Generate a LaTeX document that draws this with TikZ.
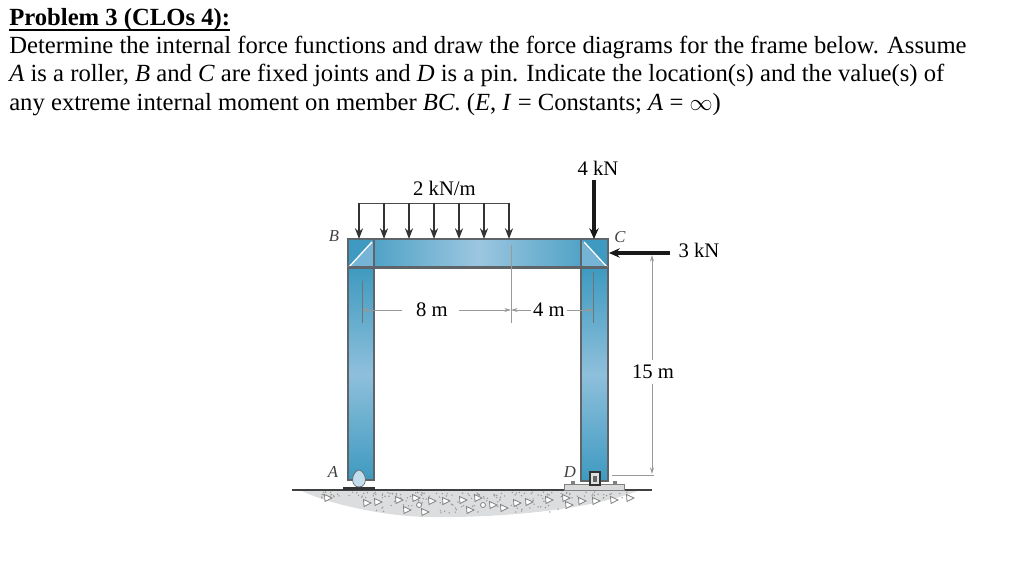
\documentclass[tikz,border=0pt]{standalone}
\usepackage{fontspec}
\setmainfont{Liberation Serif}
\usetikzlibrary{positioning,arrows.meta}
\definecolor{edgegray}{HTML}{5F6468}
\definecolor{steeldark}{HTML}{3E9AC0}
\definecolor{steellight}{HTML}{9CC6E0}
\definecolor{steelmid}{HTML}{76B4D6}
\definecolor{groundgray}{HTML}{DCDDDE}
\definecolor{dimgray}{HTML}{999999}
\tikzset{
  textline/.style={anchor=base west, inner sep=0pt, font=\fontsize{18.5}{22}\selectfont},
  dimlabel/.style={inner sep=0pt, font=\fontsize{15.5}{18}\selectfont},
  pointlabel/.style={inner sep=0pt, font=\fontsize{12.5}{15}\selectfont\itshape, text=black!75},
  member/.style={draw=edgegray, line width=1pt},
  column/.style={member, top color=steeldark, bottom color=steeldark, middle color=steellight!85!steeldark},
  loadarrow/.style={draw=black!80, line width=1.4pt, -{Stealth[length=8pt,width=6pt]}},
  bigarrow/.style={draw=black!90, line width=2.4pt, -{Stealth[length=8pt,width=7pt]}},
  dimline/.style={draw=dimgray, line width=0.6pt},
  dimarrow/.style={dimline, -{Stealth[length=5pt,width=3pt]}},
  rock/.style={draw=black!50, line width=0.6pt, fill=white}
}
\begin{document}
\begin{tikzpicture}[x=0.75pt,y=-0.75pt]
  \useasboundingbox (0,0) rectangle (1024,577);

  % problem text
  \node[textline] (title) at (9,26) {\textbf{Problem 3 (CLOs 4):}};
  \draw[black, line width=0.8pt] ([yshift=-3pt]title.base west) -- ([yshift=-3pt]title.base east);
  \node[textline] (lineone) at (9,54) {Determine the internal force functions and draw the force diagrams for the frame below. Assume};
  \node[textline] (linetwo) at (9,82) {\textit{A} is a roller, \textit{B} and \textit{C} are fixed joints and \textit{D} is a pin. Indicate the location(s) and the value(s) of};
  \node[textline] (linethree) at (9,110.5) {any extreme internal moment on member \textit{BC}. (\textit{E}, \textit{I} = Constants; \textit{A} = $\infty$)};

  % ground
  \fill[groundgray] (300,490) .. controls (325,503) and (385,517) .. (430,517)
    .. controls (500,518) and (590,510) .. (640,490) -- cycle;
  \pgfmathsetseed{11}
  \foreach \i in {1,...,120}
    \fill[black!40] ({320+rnd*310},{492+rnd*(6)}) circle (0.8);
  \foreach \i in {1,...,70}
    \fill[black!40] ({370+rnd*190},{498+rnd*(15)}) circle (0.8);
  \foreach \rx/\ry in {328/498,367/503,378/502,399/500,416/498,432/501,446/501,463/500,407/510,425/512,470/510,478/498,493/505,504/508,517/503,529/502,549/500,566/498,569/505,582/501,596/501,614/500,630/498}
    \draw[rock] (\rx-3.5,\ry-3.5) -- (\rx+4,\ry) -- (\rx-3,\ry+3.5) -- cycle;
  \foreach \rx/\ry in {419/505,483/505}
    \draw[rock] (\rx,\ry) circle (2.5);
  \draw[black!75, line width=1pt] (292,490) -- (652,490);

  % frame
  \draw[column] (348,268) rectangle (374,480);
  \draw[column] (581,268) rectangle (608,481);
  \draw[member, left color=steeldark, right color=steeldark, middle color=steellight] (348,239) rectangle (608,268);
  \fill[steeldark] (349,240) -- (372,240) -- (349,266) -- cycle;
  \fill[steelmid] (373,242) -- (373,267) -- (350,267) -- cycle;
  \fill[steeldark] (607,240) -- (584,240) -- (607,266) -- cycle;
  \fill[steelmid] (582,242) -- (582,267) -- (606,267) -- cycle;
  \draw[white, line width=1pt] (349,267) -- (372,242);
  \draw[white, line width=1pt] (607,267) -- (584,242);
  \draw[edgegray, line width=1.2pt] (349,267) -- (607,267);
  \draw[edgegray, line width=1pt] (374,240) -- (374,267);
  \draw[edgegray, line width=1pt] (581,240) -- (581,267);

  % supports
  \fill[black!80] (343,487) rectangle (375,490);
  \draw[edgegray, fill=steellight!60, line width=0.5pt] (359,470) .. controls (367,472) and (368,487) .. (359,487)
    .. controls (350,487) and (351,472) .. (359,470) -- cycle;
  \draw[black!50, fill=black!15, line width=0.5pt] (564,484) rectangle (624,490);
  \foreach \bx in {573,615}
    \fill[black!50] (\bx-2,481) rectangle (\bx+2,484);
  \draw[black!80, fill=black!12, line width=1pt] (590,472) rectangle (600,485);
  \fill[black!60] (593,476) rectangle (597,482);

  % loads
  \coordinate (loadleft) at (359,203);
  \coordinate (loadright) at (509,203);
  \draw[draw=black!70, line width=0.6pt] (loadleft) -- (loadright);
  \foreach \lx [count=\n] in {359,384,409,434,459,484,509} {
    \coordinate (loadtop\n) at (\lx,203);
    \coordinate (loadtip\n) at (\lx,239);
    \draw[loadarrow] (loadtop\n) -- (loadtip\n);
  }
  \node[dimlabel] (udl) at (444.5,188) {2 kN/m};
  \node[dimlabel] (fourkn) at (598,168) {4 kN};
  \coordinate (fourtop) at (594,180);
  \coordinate (fourtip) at (594,239);
  \draw[bigarrow] (fourtop) -- (fourtip);
  \node[dimlabel] (threekn) at (699,250) {3 kN};
  \coordinate (threeend) at (670,253);
  \coordinate (threetip) at (609,253);
  \draw[bigarrow] (threeend) -- (threetip);

  % point labels
  \node[pointlabel] (labelB) at (334,236) {B};
  \node[pointlabel] (labelC) at (620,237) {C};
  \node[pointlabel] (labelA) at (333,472) {A};
  \node[pointlabel] (labelD) at (570,472) {D};

  % dimensions
  \node[dimlabel] (eightm) at (432,310) {8 m};
  \node[dimlabel] (fourm) at (549,310) {4 m};
  \node[dimlabel] (fifteenm) at (653,372) {15 m};
  \coordinate (tickleft) at (362,310);
  \coordinate (tickmid) at (511,310);
  \coordinate (tickright) at (593,310);
  \draw[dimline, black!55] (362,281) -- (362,323);
  \draw[dimline] (511,245) -- (511,323);
  \draw[dimline, black!55] (593,272) -- (593,323);
  \draw[dimarrow] (eightm.west) ++(-14,0) -- (tickleft);
  \draw[dimarrow] (eightm.east) ++(11,0) -- (tickmid);
  \draw[dimarrow] (fourm.west) ++(-2,0) -- (tickmid);
  \draw[dimarrow] (fourm.east) ++(2,0) -- (tickright);
  \coordinate (heighttop) at (652,255);
  \coordinate (heightbottom) at (652,474);
  \draw[dimarrow] (fifteenm.north) ++(-1,-5) -- (heighttop);
  \draw[dimarrow] (fifteenm.south) ++(-1,5) -- (heightbottom);
  \draw[dimline] (612,475) -- (654,475);
\end{tikzpicture}
\end{document}
